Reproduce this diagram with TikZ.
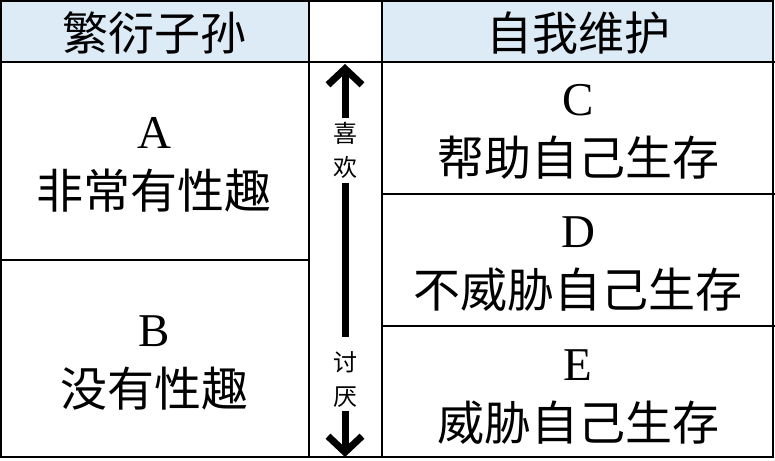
\documentclass[tikz,border=0pt]{standalone}
\usepackage{fontspec}
\setmainfont{Liberation Serif}
\newfontfamily\cjk{Noto Sans CJK SC}
\usetikzlibrary{arrows.meta}
\definecolor{headblue}{RGB}{221,235,247}

\begin{document}
\begin{tikzpicture}[x=1pt, y=-1pt,
    grid/.style={line width=1.5pt},
    head/.style={font=\cjk\fontsize{46}{50}\selectfont},
    item/.style={align=center, font=\fontsize{47}{60}\selectfont},
    side/.style={align=center, font=\cjk\fontsize{24}{34}\selectfont},
    bar/.style={line width=7pt},
]
  \useasboundingbox (0,0) rectangle (775,460);
  % header cells
  \fill[headblue] (0,0) rectangle (309,62);
  \fill[headblue] (382,0) rectangle (774,62);
  % table lines
  \draw[grid] (1,1) rectangle (773,457);
  \draw[grid] (309,0) -- (309,457);
  \draw[grid] (382,0) -- (382,457);
  \draw[grid] (0,62) -- (775,62);
  \draw[grid] (0,260) -- (309,260);
  \draw[grid] (382,194) -- (775,194);
  \draw[grid] (382,326) -- (775,326);

  \node[head] (left) at (154,33) {繁衍子孙};
  \node[head] (right) at (578,33) {自我维护};

  \node[item] (a) at (154,165) {A\\{\cjk 非常有性趣}};
  \node[item] (b) at (154,363) {B\\{\cjk 没有性趣}};
  \node[item] (c) at (578,132) {C\\{\cjk 帮助自己生存}};
  \node[item] (d) at (578,264) {D\\{\cjk 不威胁自己生存}};
  \node[item] (e) at (578,397) {E\\{\cjk 威胁自己生存}};

  % like / dislike scale
  \node[side] (like) at (345,150) {喜\\欢};
  \node[side] (dislike) at (345,380) {讨\\厌};
  \coordinate (top) at (345,64);
  \coordinate (bottom) at (345,457);
  \draw[bar, -{Straight Barb[length=16pt, width=34pt]}] (like.north) -- (top);
  \draw[bar] (345,183) -- (345,337);
  \draw[bar, -{Straight Barb[length=16pt, width=34pt]}] (dislike.south) -- (bottom);
\end{tikzpicture}
\end{document}
